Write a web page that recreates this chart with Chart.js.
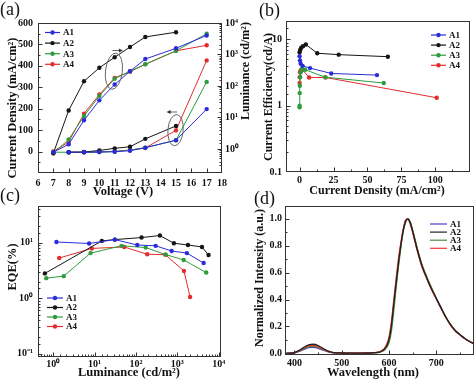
<!DOCTYPE html>
<html>
<head>
<meta charset="utf-8">
<title>Device characteristics A1-A4</title>
<script src="https://cdn.jsdelivr.net/npm/chart.js@4.4.1/dist/chart.umd.min.js"></script>
<style>
  body { margin: 0; background: #fff; }
  #wrap { position: relative; width: 474px; height: 379px; overflow: hidden; font-family: "Liberation Serif", serif; }
  canvas { position: absolute; }
  .tag { position: absolute; font-size: 18px; line-height: 18px; color: #111; }
</style>
</head>
<body>
<div id="wrap">
  <canvas id="jvl" width="262" height="200" style="left:0;top:0"></canvas>
  <canvas id="ce" width="237" height="200" style="left:237px;top:0"></canvas>
  <canvas id="eqe" width="240" height="194" style="left:0;top:185px"></canvas>
  <canvas id="el" width="237" height="194" style="left:237px;top:185px"></canvas>
  <div class="tag" style="left:0;top:0">(a)</div>
  <div class="tag" style="left:259px;top:1px">(b)</div>
  <div class="tag" style="left:0;top:186px">(c)</div>
  <div class="tag" style="left:254px;top:189px">(d)</div>
</div>
<script>
// ---- data ----
const series = ['A1', 'A2', 'A3', 'A4'];

// (a) current density / luminance vs voltage
const volts = [7, 8, 9, 10, 11, 12, 13, 15, 17];
const jA1 = [-3, 34, 146, 239, 313, 375, 432, 482, 542];
const jA2 = [-8, 192, 328, 391, 440, 488, 535, 557, null];
const jA3 = [-8, 57, 166, 259, 340, 375, 408, 470, 550];
const jA4 = [0, 45, 177, 266, 344, 373, 407, 470, 496];
const lumA1 = [null, 0.79, 0.79, 0.8, 0.82, 0.88, 1.1, 1.9, 18.5];
const lumA2 = [null, 0.79, 0.8, 0.9, 1.05, 1.18, 2.1, 5.4, null];
const lumA3 = [0.79, 0.79, 0.79, 0.8, 0.83, 0.92, 1.1, 1.9, 135];
const lumA4 = [null, 0.79, 0.79, 0.81, 0.84, 0.93, 1.08, 3.9, 650];

// (b) current efficiency vs current density
const ceJ1 = [0, 0.3, 0.8, 2.2, 7.7, 23.3, 57];
const ce1 = [5.6, 4.8, 4.3, 4.0, 3.7, 3.07, 2.9];
const ceJ2 = [0, 0.5, 1.2, 2.5, 4.6, 13, 28.8, 65];
const ce2 = [6.4, 7.0, 7.5, 7.9, 8.4, 6.2, 5.9, 5.5];
const ceJ3 = [0, 0.05, 0.1, 0.2, 0.4, 0.8, 1.5, 4.1, 18.8, 62];
const ce3 = [0.95, 1.0, 1.55, 2.0, 2.7, 3.2, 3.6, 3.5, 2.7, 2.2];
const ceJ4 = [0, 0.1, 0.3, 0.8, 2.0, 7.0, 19.2, 101];
const ce4 = [2.2, 2.7, 3.2, 3.4, 3.5, 2.67, 2.67, 1.32];

// (c) EQE vs luminance
const eqeL1 = [1.2, 7.4, 31, 108, 300, 730, 1710, 4340];
const eqe1 = [10.3, 9.7, 11.4, 9.1, 8.8, 7.1, 6.5, 4.3];
const eqeL2 = [0.63, 15, 31, 137, 380, 830, 1810, 3960, 5700];
const eqe2 = [2.8, 10.8, 11.4, 12.4, 13.5, 9.8, 9.1, 8.4, 6.0];
const eqeL3 = [0.68, 1.8, 8, 45, 172, 530, 1430, 5000];
const eqe3 = [2.3, 2.5, 6.5, 8.8, 8.2, 6.1, 4.9, 2.9];
const eqeL4 = [1.4, 8.6, 52, 188, 510, 1450, 2040];
const eqe4 = [5.3, 7.9, 8.4, 6.2, 6.1, 3.1, 1.05];

// (d) EL spectra
const wlTicks = [400, 450, 500, 550, 600, 650, 700, 750];
const wl = [380, 390, 400, 410, 420, 430, 440, 450, 460, 470, 480, 490, 500,
  520, 540, 560, 570, 580,
  585, 590, 595, 600, 605, 610, 615, 620, 625, 630, 635, 640, 645, 650, 655, 660,
  670, 680, 690, 700, 710, 720, 730, 740, 750, 760, 770, 780];
const elA1 = [0, 0.001, 0.004, 0.015, 0.03, 0.042, 0.045, 0.038, 0.025, 0.013, 0.005, 0.003, 0.002,
  0.002, 0.002, 0.003, 0.005, 0.01,
  0.019, 0.031, 0.056, 0.1, 0.2, 0.35, 0.51, 0.66, 0.8, 0.91, 0.98, 1.0, 0.97, 0.91, 0.84, 0.77,
  0.65, 0.56, 0.48, 0.41, 0.34, 0.27, 0.215, 0.17, 0.14, 0.112, 0.09, 0.072];
const elA2 = [0, 0.001, 0.006, 0.022, 0.045, 0.063, 0.068, 0.058, 0.038, 0.019, 0.008, 0.004, 0.003,
  0.002, 0.002, 0.003, 0.005, 0.01,
  0.018, 0.03, 0.055, 0.1, 0.2, 0.36, 0.52, 0.67, 0.8, 0.91, 0.98, 1.0, 0.97, 0.91, 0.84, 0.77,
  0.65, 0.56, 0.48, 0.41, 0.34, 0.27, 0.215, 0.17, 0.14, 0.112, 0.09, 0.072];
const elA3 = [0, 0.001, 0.005, 0.017, 0.035, 0.049, 0.053, 0.045, 0.03, 0.015, 0.006, 0.003, 0.002,
  0.002, 0.002, 0.002, 0.004, 0.008,
  0.014, 0.024, 0.042, 0.078, 0.16, 0.31, 0.48, 0.64, 0.78, 0.9, 0.97, 1.0, 0.98, 0.92, 0.85, 0.78,
  0.66, 0.57, 0.49, 0.41, 0.34, 0.275, 0.215, 0.17, 0.14, 0.112, 0.09, 0.072];
const elA4 = [0, 0.001, 0.005, 0.019, 0.04, 0.055, 0.06, 0.051, 0.033, 0.017, 0.007, 0.003, 0.002,
  0.002, 0.002, 0.003, 0.006, 0.012,
  0.022, 0.036, 0.066, 0.12, 0.23, 0.39, 0.55, 0.7, 0.82, 0.92, 0.99, 1.0, 0.96, 0.9, 0.83, 0.76,
  0.64, 0.555, 0.475, 0.405, 0.335, 0.27, 0.21, 0.168, 0.138, 0.11, 0.088, 0.07];

const colors = ['#2b2bdb', '#151515', '#2e9c3c', '#e32d2d'];
const specColors = ['#4a3fc4', '#231f20', '#4e8c3a', '#ef3b36'];
const specOrder = [3, 0, 2, 1]; // black on top, then red

// ---- helpers ----
const serif = '"Liberation Serif", "Times New Roman", serif';
const tickFont = { family: serif, size: 10, weight: 'bold' };
const sup = { '-1': '\u207B\u00B9', '0': '\u2070', '1': '\u00B9', '2': '\u00B2', '3': '\u00B3', '4': '\u2074' };

function isPow10(v) {
  const e = Math.log10(v);
  return Math.abs(e - Math.round(e)) < 1e-6;
}
function powLabel(v) {
  return isPow10(v) ? '10' + sup[Math.round(Math.log10(v))] : '';
}

function axis(type, position, min, max, size, ticks, extra) {
  return Object.assign({
    type, position, min, max,
    grid: { display: false, drawTicks: false },
    border: { display: false },
    ticks: Object.assign({ font: tickFont, color: '#111', autoSkip: false, maxRotation: 0, padding: 3 }, ticks),
    afterFit: s => { if (s.isHorizontal()) s.height = size; else s.width = size; }
  }, extra);
}

function line(label, data, color, yAxisID) {
  return {
    label, data, yAxisID,
    borderColor: color, backgroundColor: color, borderWidth: 1,
    pointRadius: 2.2, pointBorderWidth: 0, pointBackgroundColor: color
  };
}

function pts(xs, ys) {
  return xs.map((x, i) => ({ x, y: ys[i] }));
}

// frame, inward ticks, titles, legend and the circled groups
const decor = {
  id: 'decor',
  afterDraw(chart, args, o) {
    const ctx = chart.ctx, a = chart.chartArea;
    const l = Math.round(a.left) + 0.5, t = Math.round(a.top) + 0.5;
    const r = Math.round(a.right) - 0.5, b = Math.round(a.bottom) - 0.5;
    ctx.save();
    ctx.strokeStyle = '#333';
    ctx.lineWidth = 1;
    ctx.strokeRect(l, t, r - l, b - t);

    Object.values(chart.scales).forEach(s => {
      s.ticks.forEach(tk => {
        const p = Math.round(s.getPixelForValue(tk.value)) + 0.5;
        const n = tk.label === '' ? 2 : 4;
        ctx.beginPath();
        if (s.position === 'bottom') {
          if (p < l || p > r) return;
          ctx.moveTo(p, b); ctx.lineTo(p, b - n);
        } else {
          if (p < t || p > b) return;
          const x0 = s.position === 'left' ? l : r;
          ctx.moveTo(x0, p); ctx.lineTo(s.position === 'left' ? x0 + n : x0 - n, p);
        }
        ctx.stroke();
      });
    });

    (o.rings || []).forEach(e => {
      const xs = chart.scales.x, ys = chart.scales.y;
      const cx = xs.getPixelForValue(e.x), cy = ys.getPixelForValue(e.y);
      const rx = Math.abs(xs.getPixelForValue(e.x + e.w) - cx);
      const ry = Math.abs(ys.getPixelForValue(e.y + e.h) - cy);
      ctx.strokeStyle = '#666';
      ctx.fillStyle = '#333';
      ctx.beginPath();
      ctx.ellipse(cx, cy, rx, ry, e.tilt, 0, 2 * Math.PI);
      ctx.stroke();
      const ay = cy - ry - 2.5;
      const x0 = cx - e.dir * 1.5, x1 = x0 + e.dir * 9;
      ctx.beginPath(); ctx.moveTo(x0, ay); ctx.lineTo(x1, ay); ctx.stroke();
      ctx.beginPath();
      ctx.moveTo(x1 + e.dir * 1.5, ay);
      ctx.lineTo(x1 - e.dir * 2.5, ay - 2);
      ctx.lineTo(x1 - e.dir * 2.5, ay + 2);
      ctx.fill();
    });

    ctx.fillStyle = '#111';
    ctx.textAlign = 'center';
    ctx.textBaseline = 'middle';
    (o.titles || []).forEach(tt => {
      ctx.save();
      ctx.font = 'bold ' + (tt.size || 12) + 'px ' + serif;
      ctx.translate(tt.x, tt.y);
      if (tt.rot) ctx.rotate(-Math.PI / 2);
      ctx.fillText(tt.text, 0, 0);
      ctx.restore();
    });

    const lg = o.legend;
    if (lg) {
      ctx.font = 'bold 9px ' + serif;
      ctx.textAlign = 'left';
      series.forEach((name, i) => {
        const y = lg.y + i * lg.dy;
        ctx.strokeStyle = lg.colors[i];
        ctx.lineWidth = 1.2;
        ctx.beginPath(); ctx.moveTo(lg.x, y); ctx.lineTo(lg.x + lg.w, y); ctx.stroke();
        if (lg.dots) {
          ctx.fillStyle = lg.colors[i];
          ctx.beginPath(); ctx.arc(lg.x + lg.w / 2, y, 2.2, 0, 2 * Math.PI); ctx.fill();
        }
        ctx.fillStyle = '#111';
        ctx.fillText(name, lg.x + lg.w + 3, y + 0.5);
      });
    }
    ctx.restore();
  }
};
Chart.register(decor);

function opts(scales, pad, deco) {
  return {
    responsive: false, animation: false, events: [],
    layout: { padding: pad },
    plugins: { legend: { display: false }, tooltip: { enabled: false }, decor: deco },
    scales
  };
}

// ---- (a) J-V-L ----
const jv = [jA1, jA2, jA3, jA4];
const lv = [lumA1, lumA2, lumA3, lumA4];
new Chart(document.getElementById('jvl'), {
  type: 'line',
  data: {
    datasets: series.flatMap((s, i) => [
      line(s, pts(volts, jv[i]), colors[i], 'y'),
      line(s, pts(volts, lv[i]), colors[i], 'yL')
    ])
  },
  options: opts({
    x: axis('linear', 'bottom', 6, 18, 27, { stepSize: 1, padding: 4 }),
    y: axis('linear', 'left', -100, 600, 38, {
      stepSize: 50, includeBounds: false, padding: 5,
      callback: v => (v >= 0 && v % 100 === 0 ? String(v) : '')
    }),
    yL: axis('logarithmic', 'right', 0.173, 10000, 40, { padding: 3, callback: powLabel })
  }, { top: 23, left: 0, right: 0, bottom: 0 }, {
    titles: [
      { text: 'Current Density (mA/cm\u00B2)', x: 12.5, y: 108, rot: true, size: 12.5 },
      { text: 'Luminance (cd/m\u00B2)', x: 246, y: 71, rot: true, size: 12 },
      { text: 'Voltage (V)', x: 123, y: 192, size: 12.5 }
    ],
    legend: { x: 45, y: 32.5, dy: 10.6, w: 15, dots: true, colors },
    rings: [
      { x: 10.95, y: 375, w: 0.55, h: 85, tilt: 0.12, dir: 1 },
      { x: 14.97, y: 100, w: 0.5, h: 73, tilt: 0.08, dir: -1 }
    ]
  })
});

// ---- (b) current efficiency ----
const ceX = [ceJ1, ceJ2, ceJ3, ceJ4];
const ceY = [ce1, ce2, ce3, ce4];
new Chart(document.getElementById('ce'), {
  type: 'line',
  data: { datasets: series.map((s, i) => line(s, pts(ceX[i], ceY[i]), colors[i], 'y')) },
  options: opts({
    x: axis('linear', 'bottom', -10, 125.5, 28, {
      stepSize: 12.5, includeBounds: false, padding: 2,
      callback: v => (v <= 100 && v % 25 === 0 ? String(v) : '')
    }),
    y: axis('logarithmic', 'left', 0.1, 19, 49, {
      padding: 4,
      callback: v => (isPow10(v) ? String(v) : '')
    })
  }, { top: 21, left: 0, right: 0, bottom: 0 }, {
    titles: [
      { text: 'Current Efficiency(cd/A)', x: 32, y: 97, rot: true, size: 12 },
      { text: 'Current Density (mA/cm\u00B2)', x: 140, y: 191, size: 12 }
    ],
    legend: { x: 194, y: 35, dy: 10.1, w: 15, dots: true, colors }
  })
});

// ---- (c) EQE ----
const eqX = [eqeL1, eqeL2, eqeL3, eqeL4];
const eqY = [eqe1, eqe2, eqe3, eqe4];
new Chart(document.getElementById('eqe'), {
  type: 'line',
  data: { datasets: series.map((s, i) => line(s, pts(eqX[i], eqY[i]), colors[i], 'y')) },
  options: opts({
    x: axis('logarithmic', 'bottom', 0.43, 11400, 22, { padding: 1, callback: powLabel }),
    y: axis('logarithmic', 'left', 0.087, 46, 38, { padding: 5, callback: powLabel })
  }, { top: 21, left: 0, right: 19, bottom: 0 }, {
    titles: [
      { text: 'EQE(%)', x: 13, y: 82, rot: true, size: 12.5 },
      { text: 'Luminance (cd/m\u00B2)', x: 129, y: 188, size: 12.5 }
    ],
    legend: { x: 47, y: 113, dy: 9.5, w: 16, dots: true, colors }
  })
});

// ---- (d) EL spectra ----
const el = [elA1, elA2, elA3, elA4];
new Chart(document.getElementById('el'), {
  type: 'line',
  data: {
    datasets: series.map((s, i) => ({
      label: s, data: pts(wl, el[i]), yAxisID: 'y', order: specOrder[i],
      borderColor: specColors[i], borderWidth: 1.3, pointRadius: 0,
      cubicInterpolationMode: 'monotone'
    }))
  },
  options: opts({
    x: axis('linear', 'bottom', 380, 780, 24, {
      padding: 2,
      callback: v => (v % 100 === 0 ? String(v) : '')
    }, { afterBuildTicks: s => { s.ticks = wlTicks.map(value => ({ value })); } }),
    y: axis('linear', 'left', -0.012, 1.095, 48, {
      stepSize: 0.1, includeBounds: false, padding: 3,
      callback: v => (Math.round(v * 10) % 2 === 0 ? v.toFixed(1) : '')
    })
  }, { top: 21, left: 0, right: 0, bottom: 0 }, {
    titles: [
      { text: 'Normalized Intensity (a.u.)', x: 23, y: 93, rot: true, size: 12 },
      { text: 'Wavelength (nm)', x: 136, y: 188, size: 12.5 }
    ],
    legend: { x: 193, y: 39, dy: 8.1, w: 17, dots: false, colors: specColors }
  })
});
</script>
</body>
</html>
